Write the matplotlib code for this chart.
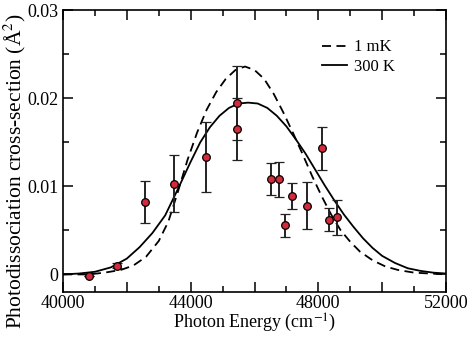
import matplotlib
matplotlib.use("Agg")
import matplotlib.pyplot as plt
from matplotlib.ticker import MultipleLocator, FuncFormatter

plt.rcParams['font.family'] = ['Liberation Serif', 'DejaVu Serif']
plt.rcParams['mathtext.fontset'] = 'stix'

# 300 K theory curve
solid_x = [40000, 40500, 41000, 41500, 42000, 42400, 42800, 43200, 43600, 44000,
           44300, 44600, 44900, 45200, 45500, 45800, 46100, 46400, 46700, 47000,
           47300, 47600, 47900, 48200, 48500, 48800, 49100, 49400, 49700, 50000,
           50400, 50800, 51200, 51600, 52000]
solid_y = [0.0000, 0.0001, 0.0003, 0.0008, 0.0018, 0.0031, 0.0047, 0.0067, 0.0097, 0.0128,
           0.0150, 0.0167, 0.0180, 0.0189, 0.0194, 0.0195, 0.0194, 0.0189, 0.0180, 0.0168,
           0.0153, 0.0137, 0.0119, 0.0101, 0.0084, 0.0068, 0.0054, 0.0041, 0.0030, 0.0021,
           0.0013, 0.0007, 0.0004, 0.0002, 0.0001]

# 1 mK theory curve
dash_x = [40000, 40800, 41300, 41800, 42200, 42600, 43000, 43300, 43600, 43900,
          44200, 44500, 44800, 45100, 45400, 45700, 46000, 46300, 46600, 46900,
          47200, 47500, 47800, 48100, 48400, 48700, 49000, 49300, 49700, 50100,
          50500, 51000, 51500, 52000]
dash_y = [0.0000, 0.0000, 0.0002, 0.0005, 0.0010, 0.0020, 0.0038, 0.0060, 0.0094, 0.0130,
          0.0161, 0.0187, 0.0207, 0.0222, 0.0232, 0.0236, 0.0232, 0.0222, 0.0205, 0.0184,
          0.0161, 0.0137, 0.0112, 0.0089, 0.0068, 0.0050, 0.0037, 0.0026, 0.0016, 0.0009,
          0.0005, 0.0002, 0.0001, 0.0000]

# experimental points
exp_x = [40815, 41682, 42570, 43488, 44470, 45462, 45462, 46517, 46757, 46956,
         47185, 47645, 48105, 48334, 48575]
exp_y = [-0.0002, 0.0010, 0.0082, 0.0103, 0.0133, 0.0195, 0.0165, 0.0108, 0.0108, 0.0056,
         0.0089, 0.0078, 0.0143, 0.0062, 0.0065]
exp_err = [0.0000, 0.0003, 0.0024, 0.0032, 0.0040, 0.0042, 0.0035, 0.0018, 0.0020, 0.0013,
           0.0015, 0.0027, 0.0024, 0.0013, 0.0020]

fig = plt.figure(figsize=(4.74, 3.38), dpi=100)
ax = fig.add_axes([0.133, 0.136, 0.808, 0.834])

ax.plot(dash_x, dash_y, color='black', lw=1.3, ls=(0, (5, 3)), label='1 mK')
ax.plot(solid_x, solid_y, color='black', lw=1.3, ls='-', label='300 K')
ax.errorbar(exp_x, exp_y, yerr=exp_err, fmt='o', color='black', ecolor='#222222',
            elinewidth=1.4, capsize=3.5, capthick=1.4, markersize=5.5,
            markerfacecolor='#d42a3c', markeredgecolor='black', markeredgewidth=0.9,
            zorder=3)

ax.set_xlim(40000, 52000)
ax.set_ylim(-0.002, 0.03)
ax.xaxis.set_major_locator(MultipleLocator(2000))
ax.xaxis.set_minor_locator(MultipleLocator(1000))
ax.yaxis.set_major_locator(MultipleLocator(0.01))
ax.yaxis.set_minor_locator(MultipleLocator(0.005))
ax.xaxis.set_major_formatter(FuncFormatter(lambda v, p: f"{int(round(v))}" if round(v) % 4000 == 0 else ""))
ax.yaxis.set_major_formatter(FuncFormatter(lambda v, p: "0" if abs(v) < 1e-9 else f"{v:.2f}"))
ax.tick_params(which='both', direction='in', top=True, right=True, labelsize=13, width=1.1)
ax.tick_params(which='major', length=7)
ax.tick_params(which='minor', length=4)
ax.tick_params(axis='x', pad=2)
for s in ax.spines.values():
    s.set_linewidth(1.2)

ax.set_xlabel('Photon Energy (cm$^{-1}$)', fontsize=13, labelpad=0)
ax.set_ylabel('Photodissociation cross-section (Å$^{2}$)', fontsize=15.5)
ax.yaxis.set_label_coords(-0.092, 0.43)

ax.legend(loc='upper left', bbox_to_anchor=(0.66, 0.92), frameon=False, fontsize=12,
          handlelength=1.5, handletextpad=0.4, labelspacing=0.2, borderaxespad=0)

fig.savefig('out.png', dpi=100)
